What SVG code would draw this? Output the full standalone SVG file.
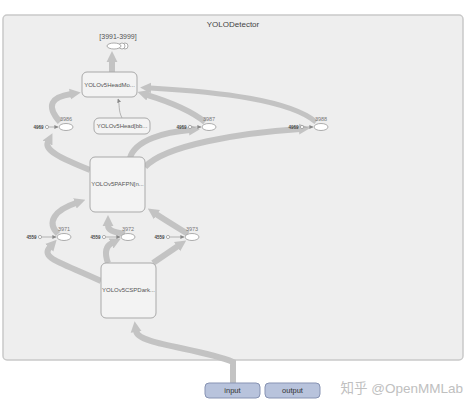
<svg xmlns="http://www.w3.org/2000/svg" width="474" height="406" viewBox="0 0 474 406">
<defs>
<marker id="ah" viewBox="0 0 10 10" refX="1" refY="5" markerWidth="11" markerHeight="13" markerUnits="userSpaceOnUse" orient="auto"><path d="M0,0 L10,5 L0,10 z" fill="#c3c3c3"/></marker>
<marker id="sa" viewBox="0 0 10 10" refX="9" refY="5" markerWidth="4" markerHeight="4" markerUnits="userSpaceOnUse" orient="auto"><path d="M0,0 L10,5 L0,10 z" fill="#888"/></marker>
<style>
.box{fill:#f3f3f3;stroke:#a9a9a9;stroke-width:1}
.lbl{font-family:"Liberation Sans",Arial,sans-serif;font-size:6px;fill:#555;text-anchor:middle}
.num{font-family:"Liberation Sans",Arial,sans-serif;font-size:5.5px;fill:#777;text-anchor:middle}
.cst{font-family:"Liberation Sans",Arial,sans-serif;font-size:4.5px;font-weight:bold;fill:#444;text-anchor:end}
.ell{fill:#fff;stroke:#999;stroke-width:0.8}
.e{fill:none;stroke:#c3c3c3;stroke-width:6;marker-end:url(#ah)}
.thin{fill:none;stroke:#999;stroke-width:0.7;marker-end:url(#sa)}
.btn{fill:#b8c3dc;stroke:#8793b3;stroke-width:1}
.btxt{font-family:"Liberation Sans",Arial,sans-serif;font-size:7.5px;fill:#333;text-anchor:middle}
</style>
</defs>
<rect width="474" height="406" fill="#fff"/>
<g id="YOLODetector">
<rect x="3" y="15" width="460" height="345" rx="4" fill="#eeeeee" stroke="#c9c9c9" stroke-width="1.5"/>
<text x="233" y="27" font-family="Liberation Sans,Arial,sans-serif" font-size="8" fill="#444" text-anchor="middle">YOLODetector</text>
</g>
<g id="connectors">
<path class="e" d="M233,383 L233,362 C200,348 138,345 136,331"/>
<path class="e" d="M101,281 C60,262 40,258 50,247"/>
<path class="e" d="M108,263 C104,252 106,246 112,243"/>
<path class="e" d="M153,263 L178,246"/>
<path class="e" d="M58,234 C46,222 55,210 76,203"/>
<path class="e" d="M125,234 C112,232 108,230 108,225"/>
<path class="e" d="M188,234 C175,226 165,220 156,214"/>
<path class="e" d="M90,170 C60,158 44,150 48,142"/>
<path class="e" d="M130,158 C135,140 165,132 190,130"/>
<path class="e" d="M145,167 C165,145 240,133 300,129"/>
<path class="e" d="M60,122 C45,105 52,97 71,94"/>
<path class="e" d="M205,122 C190,110 170,102 147,95"/>
<path class="e" style="stroke-width:5" d="M316,122 C290,100 220,92 150,88"/>
<path class="e" d="M112,72 L112,61"/>
<path class="thin" d="M122,118 C118,110 120,105 118,99"/>
<path class="thin" d="M49,127 L58,127"/>
<path class="thin" d="M192,127 L201,127"/>
<path class="thin" d="M304,127 L313,127"/>
<path class="thin" d="M42,237 L56,237"/>
<path class="thin" d="M106,237 L120,237"/>
<path class="thin" d="M170,237 L184,237"/>
</g>
<g id="out3991">
<text x="118" y="39" font-family="Liberation Sans,Arial,sans-serif" font-size="7" fill="#555" text-anchor="middle">[3991-3999]</text>
<circle class="ell" cx="125" cy="46" r="3"/>
<circle class="ell" cx="122" cy="46" r="3"/>
<ellipse class="ell" cx="114" cy="46" rx="7" ry="3"/>
</g>
<g id="HeadModule">
<rect class="box" x="82" y="72" width="55" height="25" rx="5"/>
<text class="lbl" x="109.5" y="86.5">YOLOv5HeadMo...</text>
</g>
<g id="HeadBbox">
<rect class="box" x="94" y="118" width="56" height="16" rx="5"/>
<text class="lbl" x="122" y="128">YOLOv5Head[bb...</text>
</g>
<g id="n3986">
<text class="num" x="66" y="121">3986</text>
<ellipse class="ell" cx="66" cy="127" rx="7" ry="3.5"/>
<circle class="ell" cx="47" cy="127" r="1.6"/>
<text class="cst" x="43.5" y="128.6">4969</text>
</g>
<g id="n3987">
<text class="num" x="209" y="121">3987</text>
<ellipse class="ell" cx="209" cy="127" rx="7" ry="3.5"/>
<circle class="ell" cx="190" cy="127" r="1.6"/>
<text class="cst" x="186.5" y="128.6">4969</text>
</g>
<g id="n3988">
<text class="num" x="321" y="121">3988</text>
<ellipse class="ell" cx="321" cy="127" rx="7" ry="3.5"/>
<circle class="ell" cx="302" cy="127" r="1.6"/>
<text class="cst" x="298.5" y="128.6">4969</text>
</g>
<g id="PAFPN">
<rect class="box" x="90" y="157" width="55" height="55" rx="5"/>
<text class="lbl" x="117.5" y="186">YOLOv5PAFPN[n...</text>
</g>
<g id="n3971">
<text class="num" x="64" y="231">3971</text>
<ellipse class="ell" cx="64" cy="237" rx="7" ry="3.5"/>
<circle class="ell" cx="40" cy="237" r="1.6"/>
<text class="cst" x="36.5" y="238.6">4559</text>
</g>
<g id="n3972">
<text class="num" x="128" y="231">3972</text>
<ellipse class="ell" cx="128" cy="237" rx="7" ry="3.5"/>
<circle class="ell" cx="104" cy="237" r="1.6"/>
<text class="cst" x="100.5" y="238.6">4559</text>
</g>
<g id="n3973">
<text class="num" x="192" y="231">3973</text>
<ellipse class="ell" cx="192" cy="237" rx="7" ry="3.5"/>
<circle class="ell" cx="168" cy="237" r="1.6"/>
<text class="cst" x="164.5" y="238.6">4559</text>
</g>
<g id="CSPDarknet">
<rect class="box" x="101" y="263" width="55" height="55" rx="5"/>
<text class="lbl" x="128.5" y="292">YOLOv5CSPDark...</text>
</g>
<g id="input">
<rect class="btn" x="205" y="383" width="55" height="15" rx="4"/>
<text class="btxt" x="232.5" y="393">input</text>
</g>
<g id="output">
<rect class="btn" x="265" y="383" width="55" height="15" rx="4"/>
<text class="btxt" x="292.5" y="393">output</text>
</g>
<text x="463" y="393" font-family="Liberation Sans,'Noto Sans CJK SC',sans-serif" font-size="13.5" fill="#c0c0c0" text-anchor="end">知乎 @OpenMMLab</text>
</svg>
